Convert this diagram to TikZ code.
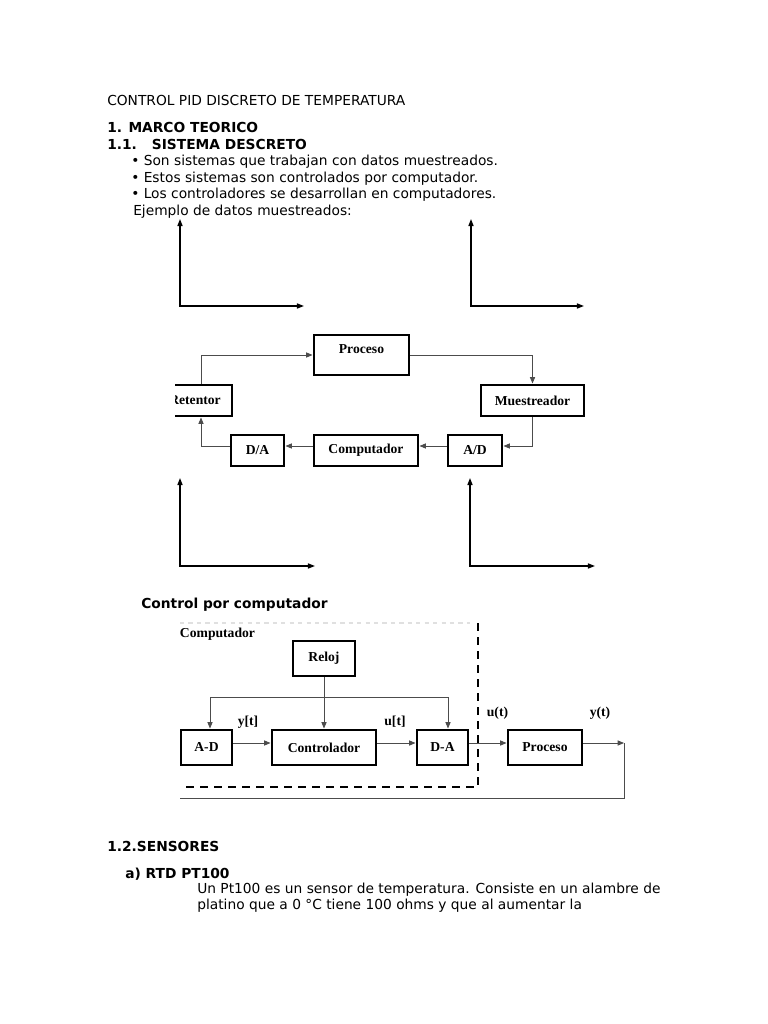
\documentclass[tikz,border=0pt]{standalone}
\usepackage{fontspec}
\setmainfont{DejaVu Sans}
\newfontfamily\blkfont{Liberation Serif}
\usetikzlibrary{arrows.meta}

\begin{document}
\begin{tikzpicture}
[x=0.025cm,y=-0.025cm,
blk/.style={draw,line width=2.1pt,inner sep=0pt,minimum height=0.775cm,font=\blkfont\bfseries\fontsize{9.7}{11}\selectfont},
lbl/.style={inner sep=0pt,font=\blkfont\bfseries\fontsize{9.7}{11}\selectfont},
txt/.style={anchor=base west,inner sep=0pt,font=\fontsize{9.8}{12}\selectfont},
hd/.style={anchor=base west,inner sep=0pt,font=\bfseries\fontsize{9.8}{12}\selectfont},
ln/.style={draw=black!70,line width=0.6pt},
arr/.style={ln,-{Triangle[length=4.5pt,width=3.6pt]}},
ax/.style={line width=0.9pt,{Triangle[length=5pt,width=3.6pt]}-{Triangle[length=5pt,width=3.6pt]}},
dsh/.style={line width=2.1pt,dash pattern=on 0.2cm off 0.15cm}]
\fill[white] (0,0) rectangle (768,1024);
\useasboundingbox (0,0) rectangle (768,1024);
% texto de arriba
\node[txt] (tit) at (107,106) {CONTROL PID DISCRETO DE TEMPERATURA};
\node[hd] (h1) at (107,133) {1. MARCO TEORICO};
\node[hd] (h11) at (107,150) {1.1.\hspace{0.375cm}SISTEMA DESCRETO};
\node[txt] (b1) at (131,166) {• Son sistemas que trabajan con datos muestreados.};
\node[txt] (b2) at (131,182.5) {• Estos sistemas son controlados por computador.};
\node[txt] (b3) at (131,199) {• Los controladores se desarrollan en computadores.};
\node[txt] (ej) at (133,215.5) {Ejemplo de datos muestreados:};
% ejes
\foreach \x/\y/\t/\e in {180/306/219/304,471/306/219/584,180/566/478/315,470/566/478/595}
\draw[ax] (\x,\t) -- (\x,\y) -- (\e,\y);
% lazo discreto
\node[blk,minimum width=2.375cm,minimum height=1cm,text depth=0.28cm] (pro) at (361.5,355) {Proceso};
\node[blk,minimum width=2.575cm] (mue) at (532.5,400.5) {Muestreador};
\node[blk,minimum width=1.35cm] (ad) at (475,450.5) {A/D};
\node[blk,minimum width=2.6cm] (comp) at (366,450.5) {Computador};
\node[blk,minimum width=1.325cm] (da) at (257.5,450.5) {D/A};
\begin{scope}
\clip (175,370) rectangle (245,430);
\node[blk,minimum width=1.85cm] (ret) at (195,400.5) {Retentor};
\end{scope}
\coordinate (r1) at (0,446);
\coordinate (c1) at (201,0);
\draw[arr] (ret.north -| c1) |- (pro.west);
\draw[arr] (pro.east) -| (mue.north);
\draw[arr] (mue.south) |- (ad.east |- r1);
\draw[arr] (ad.west |- r1) -- (comp.east |- r1);
\draw[arr] (comp.west |- r1) -- (da.east |- r1);
\draw[arr] (da.west |- r1) -| (ret.south -| c1);
% control por computador
\node[hd] (cpc) at (141,608) {Control por computador};
\node[lbl] (lc) at (217.5,634) {Computador};
\draw[black!12,line width=0.8pt,dashed] (180,623) -- (470,623);
\draw[dsh] (478,623) -- (478,787) -- (180,787);
\node[blk,minimum width=1.55cm,minimum height=0.875cm] (rel) at (324,658.5) {Reloj};
\node[blk,minimum width=1.275cm,minimum height=0.875cm] (ad2) at (206.5,747.5) {A-D};
\node[blk,minimum width=2.6cm,minimum height=0.875cm] (ctl) at (324,747.5) {Controlador};
\node[blk,minimum width=1.275cm,minimum height=0.875cm] (da2) at (442.5,747.5) {D-A};
\node[blk,minimum width=1.85cm,minimum height=0.875cm] (pro2) at (545,747.5) {Proceso};
\node[lbl] (yk) at (248,722) {y[t]};
\node[lbl] (uk) at (395,722) {u[t]};
\node[lbl] (ut) at (497.5,713) {u(t)};
\node[lbl] (yt) at (600,713) {y(t)};
\coordinate (r2) at (0,743);
\coordinate (busL) at (210,697);
\coordinate (busR) at (448,697);
\coordinate (out) at (624,743);
\coordinate (fb) at (180,798);
\draw[arr] (rel.south) -- (ctl.north);
\draw[ln] (busL) -- (busR);
\draw[arr] (busL) -- (busL |- ad2.north);
\draw[arr] (busR) -- (busR |- da2.north);
\foreach \from/\to in {ad2/ctl,ctl/da2,da2/pro2}
\draw[arr] (\from.east |- r2) -- (\to.west |- r2);
\draw[arr] (pro2.east |- r2) -- (out);
\draw[ln] (out) |- (fb);
% sensores
\node[hd] (h12) at (107,851) {1.2.SENSORES};
\node[hd] (ha) at (125,878) {a) RTD PT100};
\node[txt] (p1) at (197,893) {Un Pt100 es un sensor de temperatura. Consiste en un alambre de};
\node[txt] (p2) at (197,909.5) {platino que a 0 °C tiene 100 ohms y que al aumentar la};
\end{tikzpicture}
\end{document}
